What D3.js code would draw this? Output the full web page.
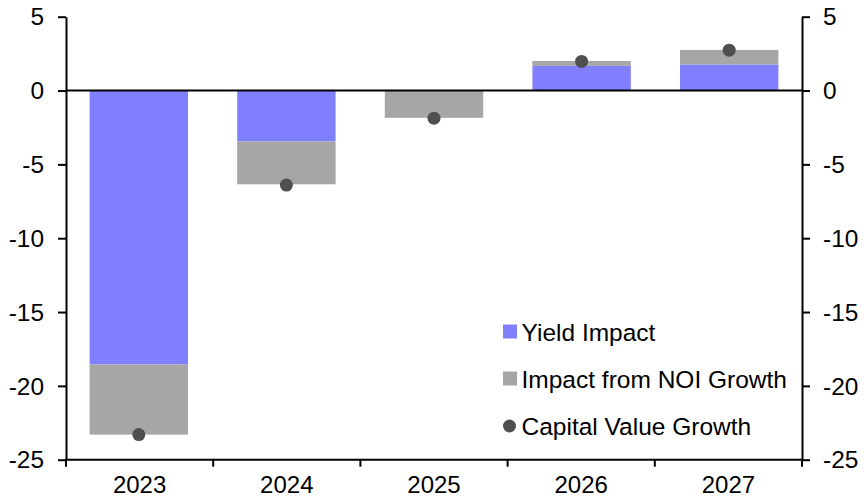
<!DOCTYPE html>
<html>
<head>
<meta charset="utf-8">
<script src="https://cdn.jsdelivr.net/npm/d3@7"></script>
<style>
  html, body { margin: 0; padding: 0; background: #fff; }
  svg text { font-family: "Liberation Sans", Arial, sans-serif; fill: #000; }
</style>
</head>
<body>
<svg id="chart" width="866" height="501"></svg>
<script>

// data
const years = ['2023', '2024', '2025', '2026', '2027'];
const yieldImpact   = [-18.55, -3.45, 0, 1.67, 1.77];
const noiImpact     = [-4.75, -2.9, -1.85, 0.33, 0.98];
const capitalGrowth = [-23.3, -6.4, -1.87, 1.97, 2.73];
const yTicks = [5, 0, -5, -10, -15, -20, -25];
const seriesNames = ['Yield Impact', 'Impact from NOI Growth', 'Capital Value Growth'];

// layout
const plotLeft = 66, plotRight = 802, plotTop = 16.7, plotBottom = 459.7;
const yieldColor = '#8080ff';
const noiColor = '#a6a6a6';
const dotColor = '#4f4f4f';

const svg = d3.select('#chart');

const x = d3.scaleBand()
    .domain(years)
    .range([plotLeft, plotRight])
    .paddingInner(1 / 3)
    .paddingOuter(0.16);

// boundaries between categories for the x ticks
const xEdge = d3.scaleLinear().domain([0, years.length]).range([plotLeft, plotRight]);

const y = d3.scaleLinear().domain([-25, 5]).range([plotBottom, plotTop]);

// stretch text horizontally a little (reference text is slightly wide)
function stretch(sel, k) {
    sel.each(function () {
        const w = this.getComputedTextLength();
        d3.select(this).attr('textLength', w * k).attr('lengthAdjust', 'spacingAndGlyphs');
    });
}

//#region bars
const rows = years.map((yr, i) => ({ year: yr, yield: yieldImpact[i], noi: noiImpact[i] }));
const stacked = d3.stack()
    .keys(['yield', 'noi'])
    .offset(d3.stackOffsetDiverging)(rows);

const colors = { yield: yieldColor, noi: noiColor };

svg.append('g').selectAll('g')
    .data(stacked)
    .join('g')
    .attr('fill', d => colors[d.key])
    .selectAll('rect')
    .data(d => d)
    .join('rect')
    .attr('x', d => x(d.data.year))
    .attr('width', x.bandwidth())
    .attr('y', d => y(Math.max(d[0], d[1])))
    .attr('height', d => Math.abs(y(d[0]) - y(d[1])));
//#endregion

//#region axes
// zero line
svg.append('line')
    .attr('x1', plotLeft).attr('x2', plotRight)
    .attr('y1', y(0)).attr('y2', y(0))
    .attr('stroke', '#000').attr('stroke-width', 2);

const leftAxis = svg.append('g')
    .attr('transform', `translate(${plotLeft},0)`)
    .call(d3.axisLeft(y).tickValues(yTicks).tickSize(8).tickPadding(14).tickSizeOuter(0));

const rightAxis = svg.append('g')
    .attr('transform', `translate(${plotRight},0)`)
    .call(d3.axisRight(y).tickValues(yTicks).tickSize(8).tickPadding(13).tickSizeOuter(0));

[leftAxis, rightAxis].forEach(ax => {
    ax.select('.domain').attr('stroke', '#000').attr('stroke-width', 2);
    ax.selectAll('.tick line').attr('stroke', '#000').attr('stroke-width', 2);
    ax.selectAll('.tick text')
        .attr('font-size', 23.5)
        .attr('font-family', '"Liberation Sans", Arial, sans-serif')
        .attr('fill', '#000')
        .attr('dy', '0.35em')
        .text(d => d);
    stretch(ax.selectAll('.tick text'), 1.04);
});

// bottom axis: ticks at the category edges, labels at the centres
const bottom = svg.append('g');
bottom.append('line')
    .attr('x1', plotLeft - 1).attr('x2', plotRight + 1)
    .attr('y1', plotBottom).attr('y2', plotBottom)
    .attr('stroke', '#000').attr('stroke-width', 2);

bottom.selectAll('.edge')
    .data(d3.range(years.length + 1))
    .join('line')
    .attr('class', 'edge')
    .attr('x1', d => xEdge(d)).attr('x2', d => xEdge(d))
    .attr('y1', plotBottom).attr('y2', plotBottom + 7)
    .attr('stroke', '#000').attr('stroke-width', 2);

bottom.selectAll('.yr')
    .data(years)
    .join('text')
    .attr('class', 'yr')
    .attr('x', d => xEdge(years.indexOf(d) + 0.5))
    .attr('y', 493)
    .attr('text-anchor', 'middle')
    .attr('font-size', 24)
    .text(d => d);
//#endregion

//#region dots
svg.append('g').selectAll('circle')
    .data(years)
    .join('circle')
    .attr('cx', d => x(d) + x.bandwidth() / 2)
    .attr('cy', (d, i) => y(capitalGrowth[i]))
    .attr('r', 6.5)
    .attr('fill', dotColor);
//#endregion

//#region legend
const legendX = 503, legendBase = [340.5, 387.5, 434.5];
const legend = svg.append('g');

legend.append('rect')
    .attr('x', legendX).attr('y', legendBase[0] - 16)
    .attr('width', 14).attr('height', 14)
    .attr('fill', yieldColor);
legend.append('rect')
    .attr('x', legendX).attr('y', legendBase[1] - 16)
    .attr('width', 14).attr('height', 14)
    .attr('fill', noiColor);
legend.append('circle')
    .attr('cx', legendX + 6.5).attr('cy', legendBase[2] - 8.5)
    .attr('r', 6.5)
    .attr('fill', dotColor);

legend.selectAll('text')
    .data(seriesNames)
    .join('text')
    .attr('x', 521.5)
    .attr('y', (d, i) => legendBase[i])
    .attr('font-size', 24.5)
    .text(d => d);
//#endregion

</script>
</body>
</html>
